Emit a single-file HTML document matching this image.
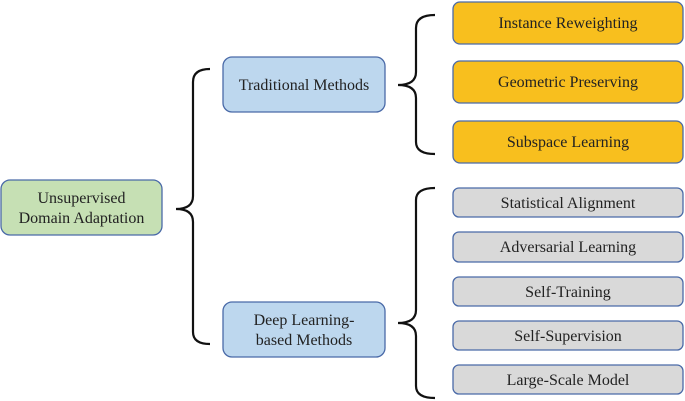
<!DOCTYPE html>
<html><head><meta charset="utf-8"><style>
html,body{margin:0;padding:0;background:#fff;width:685px;height:401px;overflow:hidden;position:relative;}
svg{position:absolute;left:0;top:0;}
.t{position:absolute;font-family:"Liberation Serif","Noto Serif CJK SC","DejaVu Serif",serif;font-size:16px;line-height:20px;color:#222;text-align:center;display:flex;align-items:center;justify-content:center;box-sizing:border-box;}
</style></head><body>
<svg width="685" height="401" viewBox="0 0 685 401" xmlns="http://www.w3.org/2000/svg">
<g stroke="#4a6aa8" stroke-width="1.3">
<rect x="1" y="180" width="161" height="55" rx="9" fill="#c6e0b4"/>
<rect x="223" y="57" width="162" height="55" rx="9" fill="#bdd7ee"/>
<rect x="223" y="302" width="162" height="55" rx="9" fill="#bdd7ee"/>
<rect x="453" y="2" width="230" height="42" rx="7" fill="#f8bf1e"/>
<rect x="453" y="61" width="230" height="42" rx="7" fill="#f8bf1e"/>
<rect x="453" y="121" width="230" height="42" rx="7" fill="#f8bf1e"/>
<rect x="453" y="188" width="230" height="29" rx="6" fill="#d9d9d9"/>
<rect x="453" y="232" width="230" height="30" rx="6" fill="#d9d9d9"/>
<rect x="453" y="277" width="230" height="29" rx="6" fill="#d9d9d9"/>
<rect x="453" y="321" width="230" height="29" rx="6" fill="#d9d9d9"/>
<rect x="453" y="365" width="230" height="29" rx="6" fill="#d9d9d9"/>
</g>
<g fill="none" stroke="#111" stroke-width="2.2">
<path d="M210 69 Q193 69 193 82 L193 196 Q193 209 176 209 Q193 209 193 222 L193 332 Q193 344 210 344"/>
<path d="M435 15 Q416 15 416 28 L416 72 Q416 85 398 85 Q416 85 416 98 L416 142 Q416 154 435 154"/>
<path d="M435 188 Q416 188 416 200 L416 310 Q416 323 398 323 Q416 323 416 336 L416 386 Q416 398 435 398"/>
</g>
</svg>
<div class="t" style="left:1px;top:181px;width:161px;height:55px;">Unsupervised<br>Domain Adaptation</div>
<div class="t" style="left:223px;top:58px;width:162px;height:55px;">Traditional Methods</div>
<div class="t" style="left:223px;top:303px;width:162px;height:55px;">Deep Learning-<br>based Methods</div>
<div class="t" style="left:453px;top:3px;width:230px;height:42px;">Instance Reweighting</div>
<div class="t" style="left:453px;top:62px;width:230px;height:42px;">Geometric Preserving</div>
<div class="t" style="left:453px;top:122px;width:230px;height:42px;">Subspace Learning</div>
<div class="t" style="left:453px;top:189px;width:230px;height:29px;">Statistical Alignment</div>
<div class="t" style="left:453px;top:233px;width:230px;height:30px;">Adversarial Learning</div>
<div class="t" style="left:453px;top:278px;width:230px;height:29px;">Self-Training</div>
<div class="t" style="left:453px;top:322px;width:230px;height:29px;">Self-Supervision</div>
<div class="t" style="left:453px;top:366px;width:230px;height:29px;">Large-Scale Model</div>
</body></html>
